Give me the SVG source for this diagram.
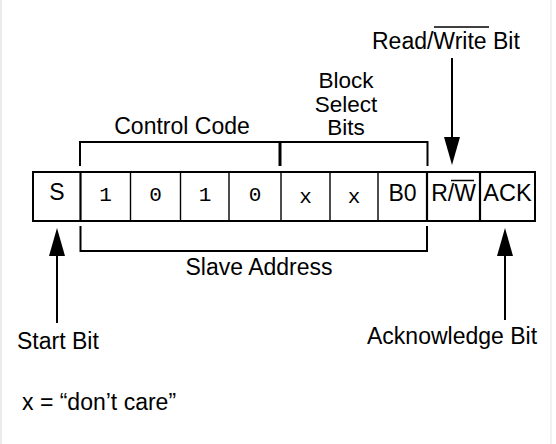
<svg xmlns="http://www.w3.org/2000/svg" width="556" height="444" viewBox="0 0 556 444">
<style>
.lbl{font-family:"Liberation Sans",Arial,sans-serif;font-size:23px;fill:#000}
.blk{font-family:"Liberation Sans",Arial,sans-serif;font-size:22.5px;fill:#000;text-anchor:middle}
.cell{font-family:"Liberation Sans",Arial,sans-serif;font-size:23px;fill:#000;text-anchor:middle}
.mono{font-family:"Liberation Mono","Courier New",monospace;font-size:21px;fill:#000;text-anchor:middle}
.ln{stroke:#000;fill:none}
</style>
<defs>
<marker id="ah" viewBox="0 0 28 16" refX="24" refY="8" markerWidth="28" markerHeight="16" markerUnits="userSpaceOnUse" orient="auto">
<path d="M0,0 L28,8 L0,16 z" fill="#000"/>
</marker>
</defs>
<rect width="556" height="444" fill="#fff"/>
<line x1="1" y1="0" x2="1" y2="444" stroke="#e4e4e4" stroke-width="1.5"/>
<line x1="551" y1="0" x2="551" y2="444" stroke="#e4e4e4" stroke-width="1"/>

<g id="frame">
<rect x="33" y="172" width="502" height="49" class="ln" stroke-width="2"/>
<line x1="130.5" y1="172" x2="130.5" y2="221" class="ln" stroke-width="1.4"/>
<line x1="180.5" y1="172" x2="180.5" y2="221" class="ln" stroke-width="1.4"/>
<line x1="229" y1="172" x2="229" y2="221" class="ln" stroke-width="1.4"/>
<line x1="281" y1="172" x2="281" y2="221" class="ln" stroke-width="1.4"/>
<line x1="330" y1="172" x2="330" y2="221" class="ln" stroke-width="1.4"/>
<line x1="378" y1="172" x2="378" y2="221" class="ln" stroke-width="1.4"/>
<line x1="80.5" y1="172" x2="80.5" y2="221" class="ln" stroke-width="2.2"/>
<line x1="427" y1="172" x2="427" y2="221" class="ln" stroke-width="2.2"/>
<line x1="480" y1="172" x2="480" y2="221" class="ln" stroke-width="2.2"/>
</g>

<g id="cell-S"><text class="cell" x="57" y="200">S</text></g>
<g id="cell-1a"><text class="mono" x="105.5" y="200.5">1</text></g>
<g id="cell-0a"><text class="mono" x="155.5" y="200.5">0</text></g>
<g id="cell-1b"><text class="mono" x="205" y="200.5">1</text></g>
<g id="cell-0b"><text class="mono" x="255" y="200.5">0</text></g>
<g id="cell-xa"><text class="mono" x="305.5" y="202.5">x</text></g>
<g id="cell-xb"><text class="mono" x="354" y="202.5">x</text></g>
<g id="cell-B0"><text class="cell" x="402.5" y="201">B0</text></g>
<g id="cell-RW"><text class="cell" x="453.5" y="201">R/W</text>
<line x1="451" y1="180.5" x2="474" y2="180.5" stroke="#000" stroke-width="1.5"/></g>
<g id="cell-ACK"><text class="cell" x="507.5" y="201" style="font-size:23.5px">ACK</text></g>

<g id="brackets">
<path d="M80,166 V142 H427.5 V166" class="ln" stroke-width="2"/>
<line x1="280" y1="141" x2="280" y2="166" class="ln" stroke-width="3"/>
<path d="M80.5,226 V251 H427 V226" class="ln" stroke-width="2"/>
</g>

<g id="labels">
<text class="lbl" x="182" y="134" text-anchor="middle">Control Code</text>
<text class="blk" x="346" y="87.5">Block</text>
<text class="blk" x="346" y="111.5">Select</text>
<text class="blk" x="346" y="135">Bits</text>
<text class="lbl" x="259" y="275" text-anchor="middle">Slave Address</text>
<text class="lbl" x="372" y="49">Read/Write Bit</text>
<line x1="434" y1="27" x2="489" y2="27" stroke="#000" stroke-width="1.5"/>
<text class="lbl" x="17" y="349">Start Bit</text>
<text class="lbl" x="367" y="344">Acknowledge Bit</text>
<text class="lbl" x="22" y="410">x = “don’t care”</text>
</g>

<g id="connectors">
<line x1="452" y1="58" x2="452" y2="161" stroke="#000" stroke-width="2" marker-end="url(#ah)"/>
<line x1="57" y1="323" x2="57" y2="232" stroke="#000" stroke-width="2" marker-end="url(#ah)"/>
<line x1="505" y1="320" x2="505" y2="232" stroke="#000" stroke-width="2" marker-end="url(#ah)"/>
</g>
</svg>
